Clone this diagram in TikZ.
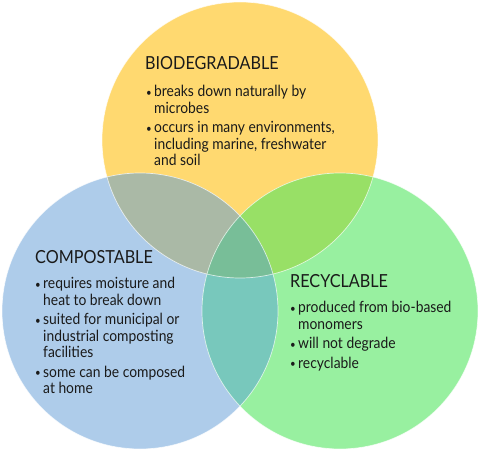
\documentclass[tikz,border=0pt]{standalone}
\usepackage{fontspec}
\setmainfont[FakeStretch=0.9]{Lato}
\definecolor{cY}{HTML}{FFD970}
\definecolor{cB}{HTML}{AECCEA}
\definecolor{cG}{HTML}{98F0A0}
\definecolor{cYB}{HTML}{AAB9A6}
\definecolor{cYG}{HTML}{98E066}
\definecolor{cBG}{HTML}{78C8BC}
\definecolor{cYBG}{HTML}{78BE98}
\definecolor{txt}{HTML}{1A1A1A}
\tikzset{
  titletext/.style={anchor=west, inner sep=0pt, text=txt, font=\fontsize{18}{20}\selectfont},
  bodytext/.style={anchor=north west, inner sep=0pt, text=txt, font=\fontsize{15.4}{16.5}\selectfont, align=left},
  rim/.style={draw=white, line width=0.7pt, draw opacity=0.7}
}
\newcommand{\bl}{\makebox[8pt][l]{\raisebox{0.5pt}{\scalebox{0.7}{\textbullet}}}}
\newcommand{\ind}{\hspace*{8pt}}
\begin{document}
\begin{tikzpicture}[x=1pt,y=-1pt]
\useasboundingbox (0,0) rectangle (480,452);
\def\Yc{(240,140) circle[radius=138pt]}
\def\Bc{(140,311) circle[radius=138pt]}
\def\Gc{(340,311) circle[radius=138pt]}
\fill[cY] \Yc;
\fill[cB] \Bc;
\fill[cG] \Gc;
\begin{scope}\clip \Yc; \fill[cYB] \Bc; \fill[cYG] \Gc; \end{scope}
\begin{scope}\clip \Bc; \fill[cBG] \Gc; \end{scope}
\begin{scope}\clip \Yc; \clip \Bc; \fill[cYBG] \Gc; \end{scope}
\draw[rim] \Yc; \draw[rim] \Bc; \draw[rim] \Gc;

\node[titletext] (bt) at (145,63) {BIODEGRADABLE};
\node[bodytext] (bb) at (146,85) {\bl breaks\ down naturally by\\ \ind microbes\\[3pt]
\bl occurs in many environments,\\ \ind including marine, freshwater\\ \ind and soil};

\node[titletext] (ct) at (35,257) {COMPOSTABLE};
\node[bodytext] (cb) at (35,277) {\bl requires moisture and\\ \ind heat to break down\\[3pt]
\bl suited for municipal or\\ \ind industrial composting\\ \ind facilities\\[3pt]
\bl some can be composed\\ \ind at home};

\node[titletext] (rt) at (290,281) {RECYCLABLE};
\node[bodytext] (rb) at (290,301) {\bl produced from bio-based\\ \ind monomers\\[3pt]
\bl will not degrade\\[3pt]
\bl recyclable};
\end{tikzpicture}
\end{document}
